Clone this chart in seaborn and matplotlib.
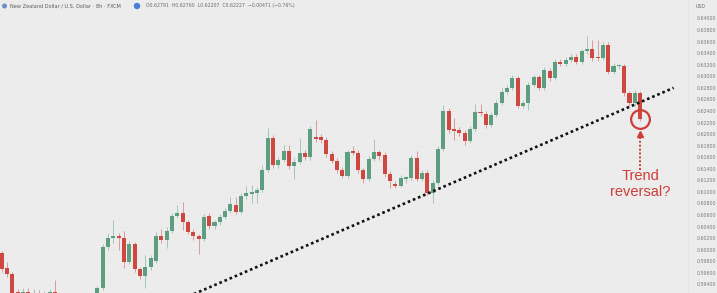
import matplotlib
matplotlib.use("Agg")
import matplotlib.pyplot as plt
from matplotlib.patches import Ellipse
import seaborn as sns
import numpy as np
import pandas as pd

# ---- data (NZD/USD, 8h candles) ----
opens = [0.5994, 0.5968, 0.5958, 0.5927, 0.5918, 0.5926, 0.5918, 0.5924, 0.5917, 0.5920,
         0.5927, 0.5918, 0.5908, 0.5899, 0.5913, 0.5903, 0.5916, 0.5906, 0.5922, 0.5933,
         0.6005, 0.6021, 0.6023, 0.6020, 0.5979, 0.6009, 0.5966, 0.5955, 0.5970, 0.5980,
         0.6024, 0.6017, 0.6033, 0.6058, 0.6063, 0.6047, 0.6031, 0.6023, 0.6019, 0.6058,
         0.6041, 0.6047, 0.6057, 0.6067, 0.6077, 0.6066, 0.6092, 0.6097, 0.6098, 0.6103,
         0.6137, 0.6193, 0.6147, 0.6155, 0.6170, 0.6144, 0.6152, 0.6167, 0.6160, 0.6195,
         0.6195, 0.6190, 0.6166, 0.6154, 0.6138, 0.6128, 0.6171, 0.6168, 0.6137, 0.6123,
         0.6157, 0.6169, 0.6164, 0.6131, 0.6114, 0.6110, 0.6123, 0.6124, 0.6159, 0.6122,
         0.6133, 0.6098, 0.6116, 0.6174, 0.6240, 0.6209, 0.6207, 0.6202, 0.6188, 0.6209,
         0.6239, 0.6234, 0.6216, 0.6233, 0.6254, 0.6273, 0.6280, 0.6297, 0.6249, 0.6253,
         0.6285, 0.6298, 0.6280, 0.6309, 0.6297, 0.6325, 0.6322, 0.6328, 0.6334, 0.6325,
         0.6343, 0.6347, 0.6332, 0.6332, 0.6354, 0.6308, 0.6317, 0.6318, 0.6271, 0.6253,
         0.6271]
highs = [0.5998, 0.5979, 0.5961, 0.5932, 0.5933, 0.5933, 0.5932, 0.5930, 0.5929, 0.5932,
         0.5948, 0.5923, 0.5913, 0.5916, 0.5916, 0.5920, 0.5920, 0.5923, 0.5937, 0.6010,
         0.6029, 0.6051, 0.6029, 0.6032, 0.6015, 0.6013, 0.5970, 0.5991, 0.5991, 0.6031,
         0.6036, 0.6039, 0.6063, 0.6077, 0.6083, 0.6051, 0.6036, 0.6027, 0.6062, 0.6063,
         0.6051, 0.6062, 0.6072, 0.6091, 0.6091, 0.6098, 0.6110, 0.6112, 0.6108, 0.6147,
         0.6211, 0.6198, 0.6160, 0.6181, 0.6181, 0.6159, 0.6193, 0.6172, 0.6214, 0.6224,
         0.6200, 0.6195, 0.6171, 0.6159, 0.6143, 0.6172, 0.6179, 0.6172, 0.6141, 0.6162,
         0.6192, 0.6172, 0.6169, 0.6136, 0.6119, 0.6129, 0.6127, 0.6164, 0.6170, 0.6138,
         0.6138, 0.6121, 0.6179, 0.6250, 0.6245, 0.6228, 0.6212, 0.6207, 0.6214, 0.6252,
         0.6252, 0.6240, 0.6238, 0.6259, 0.6280, 0.6285, 0.6302, 0.6300, 0.6259, 0.6290,
         0.6302, 0.6302, 0.6316, 0.6314, 0.6330, 0.6330, 0.6333, 0.6339, 0.6339, 0.6347,
         0.6369, 0.6363, 0.6363, 0.6359, 0.6359, 0.6323, 0.6321, 0.6321, 0.6275, 0.6276,
         0.6275]
lows = [0.5962, 0.5953, 0.5915, 0.5913, 0.5915, 0.5917, 0.5915, 0.5915, 0.5913, 0.5917,
        0.5915, 0.5904, 0.5894, 0.5896, 0.5897, 0.5899, 0.5903, 0.5903, 0.5918, 0.5930,
        0.6000, 0.6012, 0.6000, 0.5968, 0.5975, 0.5961, 0.5949, 0.5934, 0.5965, 0.5977,
        0.6012, 0.6003, 0.6029, 0.6055, 0.6034, 0.6027, 0.6017, 0.5993, 0.6015, 0.6036,
        0.6036, 0.6043, 0.6053, 0.6064, 0.6062, 0.6062, 0.6088, 0.6081, 0.6081, 0.6100,
        0.6134, 0.6141, 0.6141, 0.6152, 0.6140, 0.6122, 0.6148, 0.6155, 0.6155, 0.6186,
        0.6185, 0.6160, 0.6150, 0.6133, 0.6124, 0.6124, 0.6164, 0.6133, 0.6115, 0.6119,
        0.6153, 0.6155, 0.6126, 0.6107, 0.6107, 0.6108, 0.6115, 0.6121, 0.6119, 0.6119,
        0.6095, 0.6081, 0.6112, 0.6171, 0.6202, 0.6190, 0.6197, 0.6181, 0.6185, 0.6205,
        0.6231, 0.6211, 0.6212, 0.6230, 0.6250, 0.6269, 0.6276, 0.6245, 0.6245, 0.6242,
        0.6281, 0.6276, 0.6276, 0.6292, 0.6294, 0.6318, 0.6318, 0.6325, 0.6321, 0.6321,
        0.6339, 0.6326, 0.6326, 0.6328, 0.6304, 0.6304, 0.6313, 0.6266, 0.6249, 0.6249,
        0.6223]
closes = [0.5966, 0.5958, 0.5920, 0.5918, 0.5926, 0.5920, 0.5925, 0.5918, 0.5923, 0.5927,
          0.5918, 0.5908, 0.5899, 0.5913, 0.5903, 0.5916, 0.5906, 0.5922, 0.5933, 0.6005,
          0.6021, 0.6023, 0.6020, 0.5979, 0.6009, 0.5966, 0.5955, 0.5970, 0.5985, 0.6024,
          0.6017, 0.6033, 0.6058, 0.6063, 0.6047, 0.6031, 0.6023, 0.6019, 0.6057, 0.6041,
          0.6047, 0.6057, 0.6067, 0.6079, 0.6066, 0.6092, 0.6098, 0.6099, 0.6103, 0.6137,
          0.6193, 0.6147, 0.6155, 0.6170, 0.6144, 0.6152, 0.6167, 0.6160, 0.6209, 0.6192,
          0.6190, 0.6166, 0.6154, 0.6138, 0.6128, 0.6169, 0.6168, 0.6137, 0.6123, 0.6157,
          0.6169, 0.6162, 0.6131, 0.6118, 0.6110, 0.6124, 0.6126, 0.6159, 0.6122, 0.6133,
          0.6098, 0.6116, 0.6174, 0.6240, 0.6207, 0.6205, 0.6202, 0.6188, 0.6209, 0.6239,
          0.6237, 0.6216, 0.6233, 0.6254, 0.6273, 0.6280, 0.6297, 0.6249, 0.6253, 0.6285,
          0.6298, 0.6280, 0.6311, 0.6297, 0.6325, 0.6322, 0.6328, 0.6334, 0.6325, 0.6343,
          0.6347, 0.6331, 0.6331, 0.6354, 0.6308, 0.6318, 0.6318, 0.6271, 0.6253, 0.6271,
          0.6226]
y_ticks = [0.640, 0.638, 0.636, 0.634, 0.632, 0.630, 0.628, 0.626, 0.624, 0.622, 0.620, 0.618,
           0.616, 0.614, 0.612, 0.610, 0.608, 0.606, 0.604, 0.602, 0.600, 0.598, 0.596, 0.594]
trend_x = [30, 126.3]
trend_y = [0.5899, 0.6280]
marked_index = 120
marked_price = 0.6226
header_title = "New Zealand Dollar / U.S. Dollar · 8h · FXCM"
header_ohlc = "O0.62791  H0.62760  L0.62207  C0.62227  −0.00471 (−0.76%)"
currency = "USD"
note_line1 = "Trend"
note_line2 = "reversal?"

# ---- style ----
sns.set_theme(style="white")
plt.rcParams['font.family'] = ['DejaVu Sans']
BG = '#ececec'
GREEN = '#5c9e7f'
RED = '#cf4741'
NOTE_RED = '#cc3e38'

fig = plt.figure(figsize=(7.17, 2.93), dpi=100)
fig.patch.set_facecolor(BG)
ax = fig.add_axes([0, 0, 688 / 717, 1])
ax.set_facecolor(BG)

df = pd.DataFrame({"open": opens, "high": highs, "low": lows, "close": closes})
df["idx"] = np.arange(len(df))
up = df["close"] >= df["open"]
cols = np.where(up, GREEN, RED)

ax.vlines(df["idx"], df["low"], df["high"], colors=cols, linewidth=0.7, alpha=0.5, zorder=2)
body_bottom = np.minimum(df["open"], df["close"])
body_h = np.maximum((df["close"] - df["open"]).abs(), 0.00018)
ax.bar(df["idx"], body_h, bottom=body_bottom, width=0.76, color=cols, linewidth=0, zorder=3)

# trend line
ax.plot(trend_x, trend_y, color='#111111', linestyle=(0, (1, 1.1)), linewidth=1.9, zorder=4)

# circle around the breaking candle
ax.plot([marked_index], [marked_price], marker='o', ms=13.5, mfc='none', mec=NOTE_RED, mew=1.6, zorder=5)

# dotted arrow
ax.plot([marked_index, marked_index], [0.6137, 0.6198], color=NOTE_RED, linestyle=(0, (1, 1)),
        linewidth=1.4, zorder=5)
ax.plot([marked_index], [0.6200], marker='^', ms=4, color=NOTE_RED, zorder=5)

ax.text(marked_index + 0.1, 0.6128, note_line1, ha='center', va='center', fontsize=10.5,
        color=NOTE_RED, family=['Liberation Sans', 'DejaVu Sans'])
ax.text(marked_index + 0.1, 0.6099, note_line2, ha='center', va='center', fontsize=10.5,
        color=NOTE_RED, family=['Liberation Sans', 'DejaVu Sans'])

ax.set_xlim(-0.32, 129.0)
ax.set_ylim(0.5925, 0.6432)
ax.set_yticks(y_ticks)
ax.set_yticklabels([f"{v:.5f}" for v in y_ticks])
ax.yaxis.tick_right()
ax.tick_params(axis='y', length=0, labelsize=3.4, labelcolor='#7a7a7a', pad=6)
ax.set_xticks([])
ax.grid(True, axis='y', color='#e8e8e8', linewidth=0.4, zorder=0)
for s in ['top', 'left', 'bottom']:
    ax.spines[s].set_visible(False)
ax.spines['right'].set_color('#e4e4e4')
ax.spines['right'].set_linewidth(0.5)

# header
hy = 1 - 6 / 293
fig.text(10 / 717, hy, header_title, fontsize=3.6, color='#5a5a5a', va='center', ha='left')
fig.patches.append(Ellipse((137 / 717, hy), 6.5 / 717, 6.5 / 293, transform=fig.transFigure,
                           facecolor='#4a7fd6', edgecolor='none'))
fig.patches.append(Ellipse((4.5 / 717, hy), 5 / 717, 5 / 293, transform=fig.transFigure,
                           facecolor='#6a8fc8', edgecolor='none'))
fig.text(146 / 717, hy, header_ohlc, fontsize=3.3, color='#6a6a6a', va='center', ha='left')
fig.text(696 / 717, hy, currency, fontsize=3.4, color='#6a6a6a', va='center', ha='left')

fig.savefig("out.png", dpi=100, facecolor=BG)
